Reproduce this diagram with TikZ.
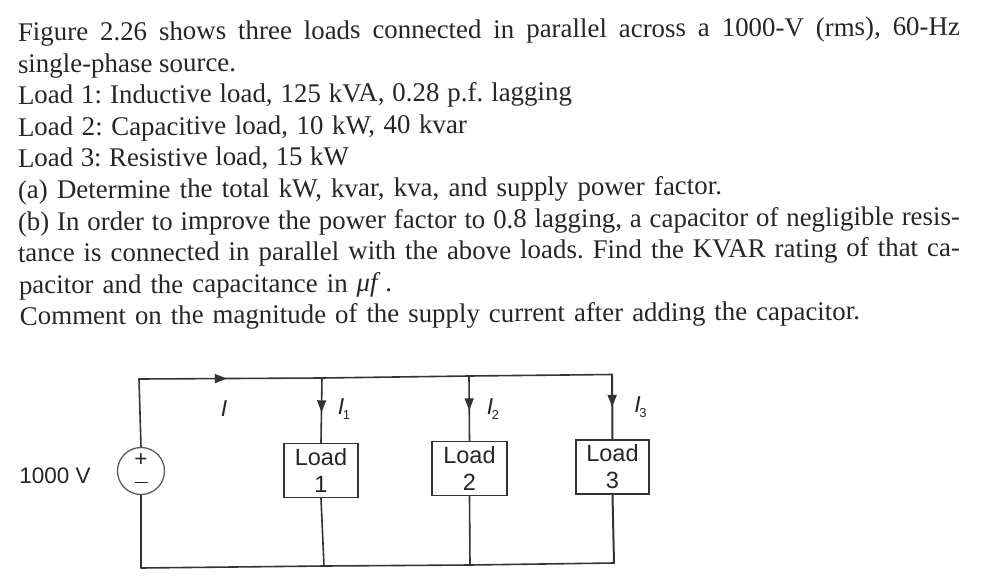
\documentclass[tikz,border=0pt]{standalone}
\usepackage{fontspec}
\setmainfont{Liberation Serif}
\newfontfamily\diagfont{Liberation Sans}
\usetikzlibrary{arrows.meta,decorations.markings}
\definecolor{ink}{HTML}{262626}
\definecolor{wire}{HTML}{333333}
\newcommand{\cursub}[1]{\textit{I}\kern-1.5pt\raisebox{-5pt}{\fontsize{13}{16}\selectfont #1}}
\tikzset{
  x=1pt,y=-1pt,
  txt/.style={anchor=base west,inner sep=0pt,outer sep=0pt,text=ink,rotate=0.35,font=\frenchspacing\fontsize{26.9}{30}\selectfont},
  wireline/.style={draw=wire,line width=1.6pt,line cap=round,line join=round},
  loadbox/.style={draw=wire,line width=1.6pt,fill=white,minimum width=74pt,minimum height=54pt,inner sep=0pt,align=center,text=ink,font=\diagfont\fontsize{23.5}{27}\selectfont},
  source/.style={circle,draw=wire!80,line width=1.3pt,minimum size=47pt,inner sep=0pt},
  lab/.style={inner sep=0pt,text=ink,font=\diagfont\fontsize{22.5}{28}\selectfont},
  cur/.style={inner sep=0pt,text=ink,font=\diagfont\fontsize{23}{28}\selectfont},
  flow/.style={postaction={decorate,decoration={markings,mark=at position #1 with {\arrow{Triangle[length=12pt,width=9pt]}}}}},
}
\begin{document}
\begin{tikzpicture}
\useasboundingbox (0,0) rectangle (1002,584);
\fill[white] (0,0) rectangle (1002,584);
% text
\node[txt] (t1) at (18,41) {\makebox[942pt][s]{Figure 2.26 shows three loads connected in parallel across a 1000-V (rms), 60-Hz}};
\node[txt] (t2) at (18,73) {single-phase source.};
\node[txt] (t3) at (18,104) {\makebox[554pt][s]{Load 1: Inductive load, 125 kVA, 0.28 p.f. lagging}};
\node[txt] (t4) at (18,136) {\makebox[449pt][s]{Load 2: Capacitive load, 10 kW, 40 kvar}};
\node[txt] (t5) at (18,167) {\makebox[331pt][s]{Load 3: Resistive load, 15 kW}};
\node[txt] (t6) at (18,199) {\makebox[704pt][s]{(a) Determine the total kW, kvar, kva, and supply power factor.}};
\node[txt] (t7) at (18,231) {\makebox[942pt][s]{(b) In order to improve the power factor to 0.8 lagging, a capacitor of negligible resis-}};
\node[txt] (t8) at (18,262) {\makebox[942pt][s]{tance is connected in parallel with the above loads. Find the KVAR rating of that ca-}};
\node[txt] (t9) at (19,294) {\makebox[373pt][s]{pacitor and the capacitance in \textit{μf}\,.}};
\node[txt] (t10) at (20,325) {\makebox[840pt][s]{Comment on the magnitude of the supply current after adding the capacitor.}};
% circuit nodes
\node[source] (src) at (141,471) {};
\node[lab] (plus) at (141,460) {+};
\node[lab] (minus) at (141,482) {\rule{13pt}{1pt}};
\node[lab] (v) at (55,476) {1000 V};
\node[loadbox] (l1) at (321,470.5) {Load\\1};
\node[loadbox,minimum width=75pt] (l2) at (469.5,468.5) {Load\\2};
\node[loadbox,minimum width=73pt] (l3) at (612.5,467) {Load\\3};
\coordinate (tl) at (139,379);
\coordinate (tj1) at (322,378);
\coordinate (tj2) at (469,376);
\coordinate (tr) at (612,374.5);
\coordinate (bl) at (141,568);
\coordinate (bj1) at (324,566);
\coordinate (bj2) at (470,565);
\coordinate (br) at (614,563);
% wires
\draw[wireline] (src.north) -- (tl);
\draw[wireline,flow=0.48] (tl) -- (tj1);
\draw[wireline] (tj1) -- (tj2) -- (tr);
\draw[wireline,flow=0.53] (tj1) -- (l1.north);
\draw[wireline,flow=0.53] (tj2) -- (l2.north);
\draw[wireline,line width=2pt,flow=0.5] (tr) -- (l3.north);
\draw[wireline] (src.south) -- (bl) -- (bj1) -- (bj2) -- (br);
\draw[wireline] (l1.south) -- (bj1);
\draw[wireline] (l2.south) -- (bj2);
\draw[wireline,line width=2pt] (l3.south) -- (br);
% current labels
\node[cur] (i) at (224,409) {\textit{I}};
\node[cur] (i1) at (344,409) {\cursub{1}};
\node[cur] (i2) at (493,409) {\cursub{2}};
\node[cur] (i3) at (640.5,407.5) {\cursub{3}};
\end{tikzpicture}
\end{document}
